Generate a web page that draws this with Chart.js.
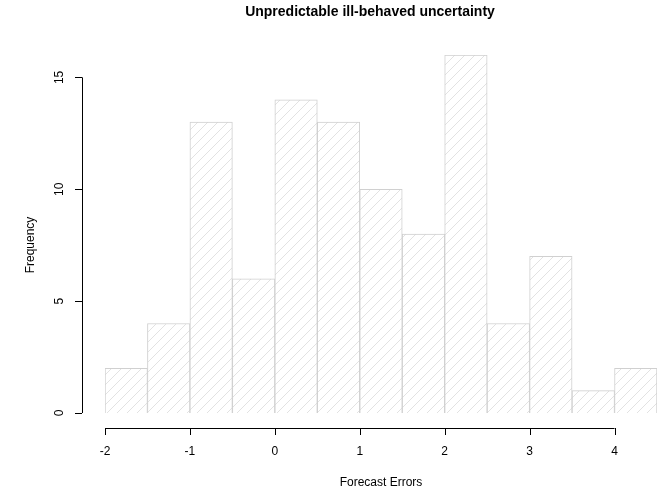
<!DOCTYPE html>
<html>
<head>
<meta charset="utf-8">
<script src="https://cdn.jsdelivr.net/npm/chart.js@4"></script>
<style>
  body { margin: 0; background: #fff; }
  #wrap { width: 667px; height: 498px; }
</style>
</head>
<body>
<div id="wrap"><canvas id="chartCanvas"></canvas></div>
<script>
const binCenters = [-1.75, -1.25, -0.75, -0.25, 0.25, 0.75, 1.25, 1.75, 2.25, 2.75, 3.25, 3.75, 4.25];
const frequencies = [2, 4, 13, 6, 14, 13, 10, 8, 16, 4, 7, 1, 2];
const xTicks = [-2, -1, 0, 1, 2, 3, 4];
const yTicks = [0, 5, 10, 15];

const FONT = '"Liberation Sans", Arial, sans-serif';

function hatch() {
    const c = document.createElement('canvas');
    c.width = 10; c.height = 10;
    const g = c.getContext('2d');
    g.fillStyle = '#ffffff';
    g.fillRect(0, 0, 10, 10);
    g.strokeStyle = '#e2e2e2';
    g.lineWidth = 1;
    g.beginPath();
    g.moveTo(0, 10); g.lineTo(10, 0);
    g.moveTo(-5, 5); g.lineTo(5, -5);
    g.moveTo(5, 15); g.lineTo(15, 5);
    g.stroke();
    return g.createPattern(c, 'repeat');
}

// ejes al estilo de R, separados del área de las barras
const ejesR = {
    id: 'ejesR',
    afterDraw(chart) {
        const ctx = chart.ctx;
        const xs = chart.scales.x, ys = chart.scales.y;
        ctx.save();
        ctx.strokeStyle = '#000';
        ctx.fillStyle = '#000';
        ctx.lineWidth = 1;
        ctx.font = '12px ' + FONT;

        const yAxis = 428;
        ctx.beginPath();
        ctx.moveTo(xs.getPixelForValue(xTicks[0]), yAxis + 0.5);
        ctx.lineTo(xs.getPixelForValue(xTicks[xTicks.length - 1]), yAxis + 0.5);
        xTicks.forEach(t => {
            const p = Math.round(xs.getPixelForValue(t)) + 0.5;
            ctx.moveTo(p, yAxis);
            ctx.lineTo(p, yAxis + 7);
        });
        ctx.stroke();
        ctx.textAlign = 'center';
        ctx.textBaseline = 'middle';
        xTicks.forEach(t => ctx.fillText(String(t), xs.getPixelForValue(t), yAxis + 24));

        const xAxis = 82;
        ctx.beginPath();
        ctx.moveTo(xAxis + 0.5, ys.getPixelForValue(yTicks[0]));
        ctx.lineTo(xAxis + 0.5, ys.getPixelForValue(yTicks[yTicks.length - 1]));
        yTicks.forEach(t => {
            const p = Math.round(ys.getPixelForValue(t)) + 0.5;
            ctx.moveTo(xAxis, p);
            ctx.lineTo(xAxis - 7, p);
        });
        ctx.stroke();
        yTicks.forEach(t => {
            ctx.save();
            ctx.translate(xAxis - 22, ys.getPixelForValue(t));
            ctx.rotate(-Math.PI / 2);
            ctx.fillText(String(t), 0, 0);
            ctx.restore();
        });

        ctx.fillText('Forecast Errors', 381, 483);
        ctx.save();
        ctx.translate(31, 245);
        ctx.rotate(-Math.PI / 2);
        ctx.fillText('Frequency', 0, 0);
        ctx.restore();

        ctx.font = 'bold 14px ' + FONT;
        ctx.fillText('Unpredictable ill-behaved uncertainty', 370, 12);
        ctx.restore();
    }
};

new Chart(document.getElementById('chartCanvas'), {
    type: 'bar',
    data: {
        datasets: [{
            data: binCenters.map((x, i) => ({ x: x, y: frequencies[i] })),
            backgroundColor: hatch(),
            borderColor: '#d0d0d0',
            borderWidth: 1,
            barPercentage: 1,
            categoryPercentage: 1
        }]
    },
    options: {
        responsive: true,
        maintainAspectRatio: false,
        animation: false,
        layout: { padding: { left: 105, right: 10, top: 55, bottom: 85 } },
        plugins: { legend: { display: false }, tooltip: { enabled: false } },
        scales: {
            x: { type: 'linear', min: -2, max: 4.5, display: false, offset: false },
            y: { min: 0, max: 16, display: false }
        }
    },
    plugins: [ejesR]
});
</script>
</body>
</html>
